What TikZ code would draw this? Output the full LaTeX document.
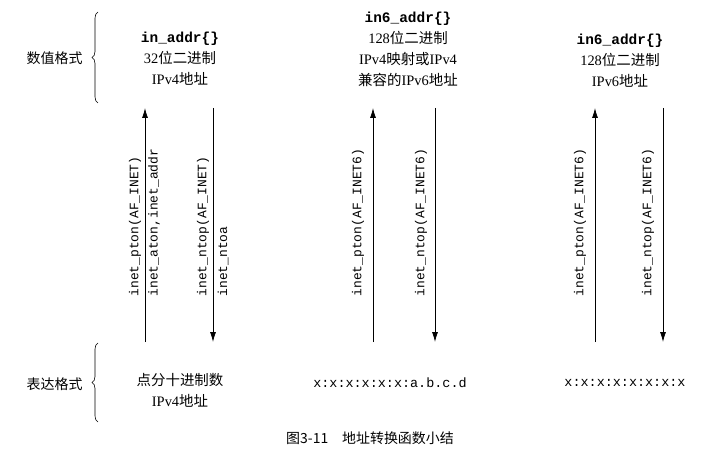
\documentclass[tikz,border=0pt]{standalone}
\usepackage{fontspec}
\setmainfont{Liberation Serif}
\setmonofont{Liberation Mono}
\newfontfamily\cjk{Noto Sans CJK SC}
\usetikzlibrary{decorations.pathreplacing,arrows.meta}

\tikzset{
	convpicture/.style = {
		x = 1bp,
		y = -1bp,
		font = \fontsize{13}{15}\selectfont,
		arrow/.style = {
			draw,
			-{Latex[length=10pt,width=6pt]},
			line width = 0.8pt,
		}
	},
	fmtbrace/.style = {
		draw,
		decorate,
		decoration = {brace, amplitude = 6pt},
		line width = 0.6pt
	},
	fmtlabel/.style = {
		font = \cjk\fontsize{14}{16}\selectfont
	},
	addrtext/.style = {
		align = center,
		font = \fontsize{14.5}{21}\selectfont
	},
	functext/.style = {
		rotate = 90,
		anchor = west,
		font = \ttfamily\fontsize{13}{15}\selectfont
	},
	presentext/.style = {
		font = \ttfamily\fontsize{13.5}{15}\selectfont
	}
}

\begin{document}
\begin{tikzpicture}[convpicture]
	\useasboundingbox (0,0) rectangle (720,456);

	% braces and format labels
	\draw[fmtbrace] (98,103) -- (98,12);
	\draw[fmtbrace] (98,422) -- (98,343);
	\node[fmtlabel, anchor = east] (numfmt) at (86,58) {数值格式};
	\node[fmtlabel, anchor = east] (presfmt) at (86,384) {表达格式};

	% numeric formats
	\node[addrtext, anchor = north] (addr4) at (180,29)
		{\textbf{\ttfamily in\_addr\{\}}\\32{\cjk 位二进制}\\IPv4{\cjk 地址}};
	\node[addrtext, anchor = north] (addr46) at (408,9)
		{\textbf{\ttfamily in6\_addr\{\}}\\128{\cjk 位二进制}\\IPv4{\cjk 映射或}IPv4\\{\cjk 兼容的}IPv6{\cjk 地址}};
	\node[addrtext, anchor = north] (addr6) at (620,31)
		{\textbf{\ttfamily in6\_addr\{\}}\\128{\cjk 位二进制}\\IPv6{\cjk 地址}};

	% presentation formats
	\node[addrtext] (pres4) at (180,390) {{\cjk 点分十进制数}\\IPv4{\cjk 地址}};
	\node[presentext] (pres46) at (390,383) {x:x:x:x:x:x:a.b.c.d};
	\node[presentext] (pres6) at (625,383) {x:x:x:x:x:x:x:x};

	% arrow ends
	\foreach \name/\x in {a/145, b/213, c/373, d/435, e/595, f/663} {
		\coordinate (\name-top) at (\x,108);
		\coordinate (\name-bot) at (\x,342);
	}

	\begin{scope}[every path/.style = arrow]
		\path (a-bot) -- (a-top);
		\path (b-top) -- (b-bot);
		\path (c-bot) -- (c-top);
		\path (d-top) -- (d-bot);
		\path (e-bot) -- (e-top);
		\path (f-top) -- (f-bot);
	\end{scope}

	% function names
	\node[functext] (pton4) at (135,300) {inet\_pton(AF\_INET)};
	\node[functext] (aton) at (154,300) {inet\_aton,inet\_addr};
	\node[functext] (ntop4) at (203,300) {inet\_ntop(AF\_INET)};
	\node[functext] (ntoa) at (223,300) {inet\_ntoa};
	\node[functext] (pton46) at (358,300) {inet\_pton(AF\_INET6)};
	\node[functext] (ntop46) at (421,300) {inet\_ntop(AF\_INET6)};
	\node[functext] (pton6) at (580,300) {inet\_pton(AF\_INET6)};
	\node[functext] (ntop6) at (648,300) {inet\_ntop(AF\_INET6)};

	% caption
	\node[fmtlabel] (caption) at (370,438) {图3-11\quad 地址转换函数小结};
\end{tikzpicture}
\end{document}
